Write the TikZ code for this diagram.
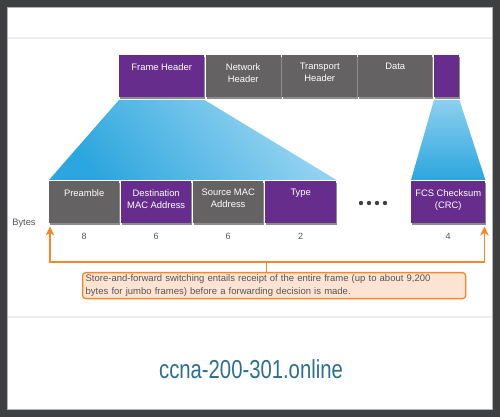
\documentclass[tikz,border=0pt]{standalone}
\usepackage{fontspec}
\setmainfont{Liberation Sans}
\usetikzlibrary{arrows.meta,shadows,calc}
\definecolor{bgdark}{HTML}{3E3F41}
\definecolor{cpurple}{HTML}{662D8C}
\definecolor{cgray}{HTML}{656263}
\definecolor{bdark}{HTML}{2CA6DE}
\definecolor{blight}{HTML}{9DD7F2}
\definecolor{corange}{HTML}{F5892A}
\definecolor{cpeach}{HTML}{FDE4D2}
\definecolor{ctext}{HTML}{555555}
\definecolor{cteal}{HTML}{2D6F8F}
\definecolor{csep}{HTML}{EDEDED}
\tikzset{
  fbox/.style={rectangle, inner sep=0pt, minimum height=42pt, anchor=north west,
    drop shadow={shadow xshift=0.8pt, shadow yshift=-1.6pt, fill=black!45, opacity=1}},
  pbox/.style={fbox, fill=cpurple},
  gbox/.style={fbox, fill=cgray},
  btxt/.style={anchor=north, inner sep=0pt, align=center, text=white,
    font=\fontsize{9.4}{12}\selectfont},
  numtxt/.style={inner sep=0pt, text=ctext, font=\fontsize{9}{11}\selectfont},
  oline/.style={draw=corange, line width=1.6pt},
  oarr/.style={oline, -{Stealth[length=9pt,width=8.5pt,inset=2.5pt]}},
}
\begin{document}
\begin{tikzpicture}[x=1pt,y=1pt]
\useasboundingbox (0,0) rectangle (500,417);
% background and panel
\fill[bgdark] (0,0) rectangle (500,417);
\filldraw[fill=white, draw=black!30, line width=0.6pt] (7.3,8) rectangle (492.7,409.7);
\draw[csep, line width=1.3pt] (7.8,379) -- (492.2,379);
\draw[csep, line width=1.3pt] (7.8,100) -- (492.2,100);

% top row boxes
\node[pbox, minimum width=85pt] (fh) at (119,362) {};
\node[gbox, minimum width=75pt] (nh) at (205.5,362) {};
\node[gbox, minimum width=75pt] (th) at (282,362) {};
\node[gbox, minimum width=74pt] (da) at (358,362) {};
\node[pbox, minimum width=25pt] (tr) at (434,362) {};

% bottom row boxes
\node[gbox, minimum width=70pt] (pre) at (49,236) {};
\node[pbox, minimum width=70pt] (dst) at (121,236) {};
\node[gbox, minimum width=70pt] (src) at (193,236) {};
\node[pbox, minimum width=71pt] (typ) at (265,236) {};
\node[pbox, minimum width=74pt] (fcs) at (411,236) {};

% funnels
\shade[top color=blight, middle color=bdark!92!blight, bottom color=bdark, shading angle=-50]
  ([yshift=-2.5pt]fh.south west) -- ([yshift=-2.5pt]fh.south east) -- ([yshift=1pt]typ.north east) -- ([yshift=1pt]pre.north west) -- cycle;
\shade[top color=blight!85!bdark, bottom color=bdark]
  ([yshift=-2.5pt]tr.south west) -- ([yshift=-2.5pt]tr.south east) -- ([yshift=1pt]fcs.north east) -- ([yshift=1pt]fcs.north west) -- cycle;

% box labels
\node[btxt] (fhT) at ([yshift=-8pt]fh.north) {Frame Header};
\node[btxt] (nhT) at ([yshift=-8pt]nh.north) {Network\\Header};
\node[btxt] (thT) at ([yshift=-8pt]th.north) {Transport\\Header};
\node[btxt] (daT) at ([yshift=-8pt]da.north) {Data};
\node[btxt] (preT) at ([yshift=-8pt]pre.north) {Preamble};
\node[btxt] (dstT) at ([yshift=-8pt]dst.north) {Destination\\MAC Address};
\node[btxt] (srcT) at ([yshift=-8pt]src.north) {Source MAC\\Address};
\node[btxt] (typT) at ([yshift=-8pt]typ.north) {Type};
\node[btxt] (fcsT) at ([yshift=-8pt]fcs.north) {FCS Checksum\\(CRC)};

% dots
\foreach \dx in {361,369,377,385} \fill[black!75] (\dx,214) circle (2.2pt);

% bytes
\node[numtxt, font=\fontsize{9.3}{11}\selectfont] (bytes) at (24,194) {Bytes};
\node[numtxt] (n1) at ([yshift=-13pt]pre.south) {8};
\node[numtxt] (n2) at ([yshift=-13pt]dst.south) {6};
\node[numtxt] (n3) at ([yshift=-13pt]src.south) {6};
\node[numtxt] (n4) at ([yshift=-13pt]typ.south) {2};
\node[numtxt] (n5) at ([yshift=-13pt]fcs.south) {4};

% callout
\node[draw=corange, fill=cpeach, line width=1.3pt, rounded corners=3pt, anchor=north west,
  minimum width=383pt, minimum height=26pt, inner xsep=2.5pt, inner ysep=1.5pt,
  text width=377pt, align=left, text=ctext, font=\fontsize{9.5}{12.5}\selectfont]
  (callout) at (82,145)
  {Store-and-forward switching entails receipt of the entire frame (up to about 9,200\\bytes for jumbo frames) before a forwarding decision is made.};

% orange connectors
\draw[oline] ([xshift=-7.5pt]callout.north) -- ++(0,10) coordinate (busmid);
\draw[oarr] (busmid) -| ([xshift=1pt,yshift=-3pt]pre.south west);
\draw[oarr] (busmid) -| ([xshift=-1pt,yshift=-3pt]fcs.south east);

% watermark
\node[inner sep=0pt, text=cteal, font=\fontsize{26}{26}\selectfont] (wm) at (251,48)
  {\scalebox{0.78}[1]{ccna-200-301.online}};
\end{tikzpicture}
\end{document}
